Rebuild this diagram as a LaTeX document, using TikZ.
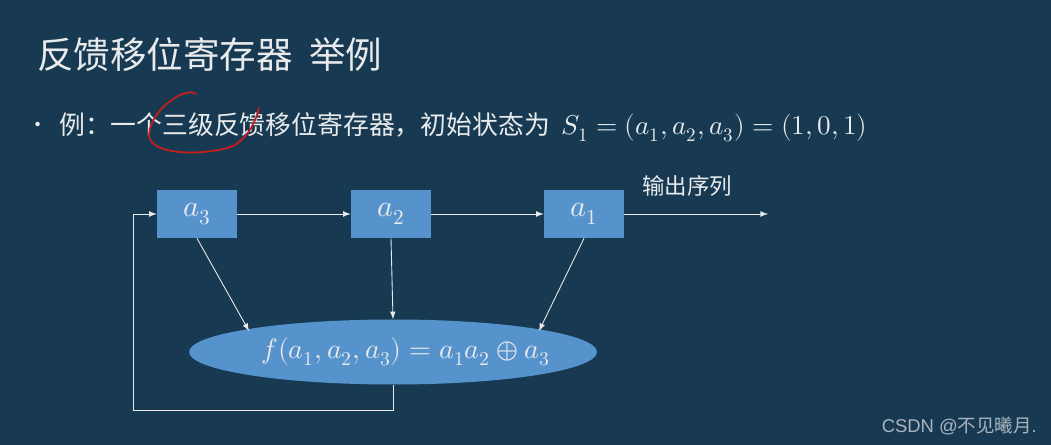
\documentclass[tikz,border=0pt]{standalone}
\usepackage{fontspec}
\usepackage{unicode-math}
\setmainfont{Noto Sans CJK SC}
\setsansfont{Liberation Sans}
\setmathfont{Latin Modern Math}
\newfontfamily\markfont{Noto Sans CJK SC}
\usetikzlibrary{shapes.geometric}
\definecolor{slide}{RGB}{23,58,82}
\definecolor{cell}{RGB}{86,146,203}
\definecolor{ink}{RGB}{232,234,236}
\definecolor{pen}{RGB}{200,30,30}
\tikzset{
  reg/.style={draw=none, fill=cell, minimum width=1.6cm, minimum height=0.96cm,
    inner sep=0pt, text=ink, font=\fontsize{17.3}{20}\selectfont},
  wire/.style={draw=ink, line width=0.5pt, ->}
}
\begin{document}
\begin{tikzpicture}[ >=latex, x=0.02cm, y=-0.02cm ]

\fill[slide] (0,0) rectangle (1051,445);
\useasboundingbox (0,0) rectangle (1051,445);

\node[anchor=west, text=ink, font=\fontsize{20.8}{24}\selectfont] (title) at (31,55) {反馈移位寄存器\ \ 举例};
\node[text=ink, font=\fontsize{12}{14}\selectfont] (dot) at (38,127) {•};
\node[anchor=west, text=ink, font=\fontsize{14.7}{17}\selectfont] (line) at (53,127)
  {例：一个三级反馈移位寄存器，初始状态为\ \ {\fontsize{15.5}{17}\selectfont$S_1=(a_1,a_2,a_3)=(1,0,1)$}};

% red pen mark
\draw[pen, line width=1pt, line cap=round] (196,94) .. controls (185,86) and (150,110) .. (149,135)
  .. controls (150,158) and (215,155) .. (235,145) .. controls (250,135) and (256,120) .. (259,108);

\node[reg] (a3) at (197,214) {$a_3$};
\node[reg] (a2) at (391,214) {$a_2$};
\node[reg] (a1) at (584,214) {$a_1$};

\node[ellipse, fill=cell, minimum width=8.16cm, minimum height=1.3cm, inner xsep=-1.5cm, inner ysep=0pt,
  text=ink, font=\fontsize{16}{19}\selectfont] (f) at (393,352) {\hspace*{0.52cm}$f(a_1,a_2,a_3)=a_1a_2\oplus a_3$};

\coordinate (out) at (768,214);
\coordinate (c1) at (393,410);
\coordinate (c2) at (133,410);
\coordinate (c3) at (133,214);

\draw[wire] (a3) -- (a2);
\draw[wire] (a2) -- (a1);
\draw[wire] (a1) -- (out);
\node[anchor=south west, text=ink, font=\fontsize{12.8}{15}\selectfont] (seq) at (636,203) {输出序列};

\draw[wire] (a3.south) -- (249,331);
\draw[wire] (a2.south) -- (f.north);
\draw[wire] (a1.south) -- (539,331);

\draw[wire] (f.south) -- (c1) -- (c2) -- (c3) -- (a3.west);

\node[anchor=east, text=ink!70!slide, font=\sffamily\fontsize{10.5}{12}\selectfont] (mark) at (1043,426)
  {CSDN @{\markfont 不见曦月}.};

\end{tikzpicture}
\end{document}
